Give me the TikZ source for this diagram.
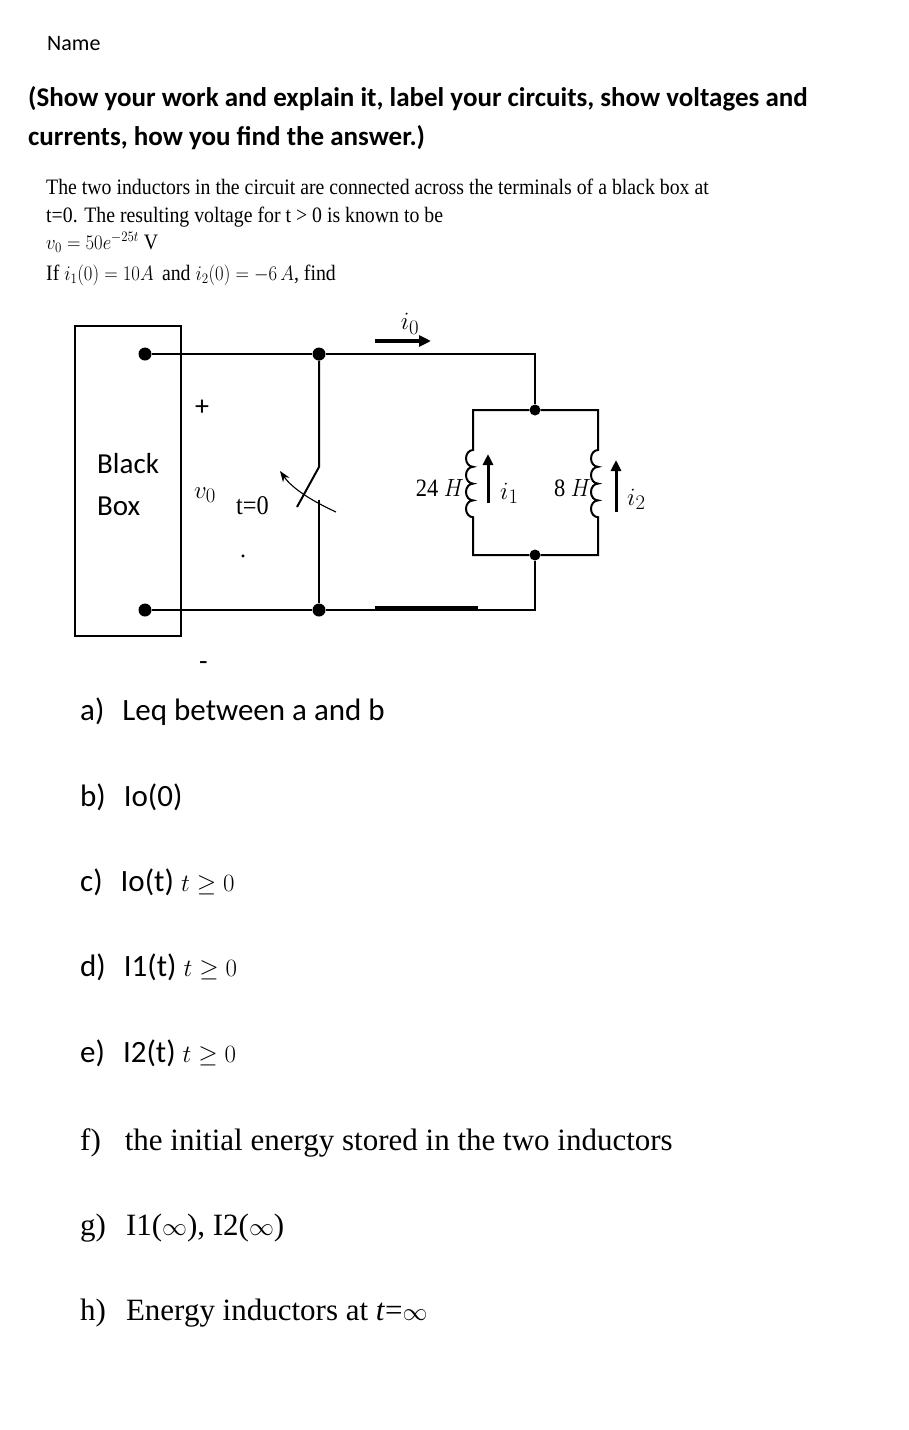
\documentclass[tikz,border=0pt]{standalone}
\usepackage{fontspec}
\usepackage{amsmath}
\setmainfont{Liberation Serif}
\newfontfamily\calf{Carlito}
\usetikzlibrary{arrows.meta}
\newcommand{\cond}[1]{\scalebox{0.9}[1]{#1}}
\begin{document}
\begin{tikzpicture}[x=1pt,y=-1pt,
  wire/.style={line width=2pt},
  dot/.style={circle,fill=black,inner sep=0pt,minimum size=13pt},
  sdot/.style={circle,fill=black,inner sep=0pt,minimum size=11pt},
  txt/.style={anchor=base west,inner sep=0pt},
  body/.style={txt,font=\fontsize{22}{24}\selectfont},
  q/.style={txt,font=\calf\fontsize{31}{34}\selectfont},
  qs/.style={txt,font=\fontsize{31}{34}\selectfont},
  cur/.style={line width=3pt,-{Triangle[length=11pt,width=10pt]}}]
\fill[white] (0,0) rectangle (908,1430);
\node[txt,font=\calf\fontsize{22}{24}\selectfont] (name) at (47,50) {Name};
\node[txt,font=\calf\bfseries\fontsize{27}{30}\selectfont] (h1) at (28,106) {(Show your work and explain it, label your circuits, show voltages and};
\node[txt,font=\calf\bfseries\fontsize{27}{30}\selectfont] (h2) at (28,145) {currents, how you find the answer.)};
\node[body] (b1) at (46,194) {\cond{The two inductors in the circuit are connected across the terminals of a black box at}};
\node[body] (b2) at (46,222) {\cond{t=0. The resulting voltage for t > 0 is known to be}};
\node[body] (b3) at (46,249) {\cond{$v_0=50e^{-25t}$ V}};
\node[body] (b4) at (46,280) {\cond{If $i_1(0)=10A$\, and $i_2(0)=-6\,A$, find}};
% box
\draw[line width=1.6pt] (75,326) rectangle (181,636);
\node[txt,font=\calf\fontsize{29}{32}\selectfont] (bl) at (97,473) {Black};
\node[txt,font=\calf\fontsize{29}{32}\selectfont] (bx) at (97,515) {Box};
\node[dot] (ta) at (145,354) {};
\node[dot] (tb) at (145,610) {};
\node[dot] (sa) at (319,354) {};
\node[dot] (sb) at (319,610) {};
\coordinate (tr) at (535,354);
\node[sdot] (lt) at (535,410) {};
\node[sdot] (lb) at (535,555) {};
\coordinate (br) at (535,610);
\draw[wire] (ta) -- (sa) -- (tr) -- (lt);
\draw[wire] (tb) -- (sb) -- (br) -- (lb);
\draw[line width=4pt] (375,608) -- (478,608);
% switch
\coordinate (s1) at (319,467);
\coordinate (s2) at (297,507);
\coordinate (s3) at (319,500);
\draw[wire] (sa) -- (s1) -- (s2);
\draw[wire] (s3) -- (sb);
\draw[line width=1.1pt,-{Stealth[length=11pt,width=8pt]}] (336,512) .. controls (310,500) and (292,488) .. (280,471);
% inductors
\coordinate (al) at (473,410);
\coordinate (ar) at (598,410);
\coordinate (cl) at (473,555);
\coordinate (cr) at (598,555);
\draw[wire] (lt) -- (al) -- (473,450)
  arc[start angle=270,end angle=90,x radius=7,y radius=8.4]
  arc[start angle=270,end angle=90,x radius=7,y radius=8.4]
  arc[start angle=270,end angle=90,x radius=7,y radius=8.4]
  arc[start angle=270,end angle=90,x radius=7,y radius=8.4] -- (cl) -- (lb);
\draw[wire] (lt) -- (ar) -- (598,450)
  arc[start angle=270,end angle=90,x radius=7,y radius=8.4]
  arc[start angle=270,end angle=90,x radius=7,y radius=8.4]
  arc[start angle=270,end angle=90,x radius=7,y radius=8.4]
  arc[start angle=270,end angle=90,x radius=7,y radius=8.4] -- (cr) -- (lb);
\coordinate (i1a) at (488,503);
\coordinate (i1b) at (488,454);
\draw[cur] (i1a) -- (i1b);
\coordinate (i2a) at (616,512);
\coordinate (i2b) at (616,460);
\draw[cur] (i2a) -- (i2b);
\coordinate (i0a) at (375,341);
\coordinate (i0b) at (431,341);
\draw[line width=3.5pt,-{Triangle[length=12pt,width=11pt]}] (i0a) -- (i0b);
\node[font=\fontsize{30}{32}\selectfont] (i0) at (410,324) {$i_0$};
\node[anchor=base east,inner sep=0pt,font=\fontsize{25}{28}\selectfont] (l24) at (464,496) {\cond{24 $H$}};
\node[anchor=base east,inner sep=0pt,font=\fontsize{25}{28}\selectfont] (l8) at (591,496) {\cond{8 $H$}};
\node[txt,font=\fontsize{30}{32}\selectfont] (li1) at (500,499) {$i_1$};
\node[txt,font=\fontsize{30}{32}\selectfont] (li2) at (627,505) {$i_2$};
\node[txt,font=\calf\fontsize{28}{30}\selectfont] (plus) at (195,415) {+};
\node[txt,font=\calf\fontsize{28}{30}\selectfont] (minus) at (199,670) {-};
\node[txt,font=\fontsize{32}{34}\selectfont] (v0) at (194,498) {$v_0$};
\node[txt,font=\fontsize{27}{30}\selectfont] (t0) at (236,514) {\cond{t=0}};
\node[txt,font=\fontsize{24}{26}\selectfont] (pd) at (240,557) {.};
% questions
\node[q] (qa) at (80,720) {a)\hspace{18pt}Leq between a and b};
\node[q] (qb) at (80,806) {b)\hspace{18pt}Io(0)};
\node[q] (qc) at (80,891) {c)\hspace{18pt}Io(t) $t\geq 0$};
\node[q] (qd) at (80,976) {d)\hspace{18pt}I1(t) $t\geq 0$};
\node[q] (qe) at (80,1062) {e)\hspace{18pt}I2(t) $t\geq 0$};
\node[qs] (qf) at (80,1150) {f)\hspace{24pt}the initial energy stored in the two inductors};
\node[qs] (qg) at (80,1235) {g)\hspace{20pt}I1($\infty$), I2($\infty$)};
\node[qs] (qh) at (80,1320) {h)\hspace{20pt}Energy inductors at \textit{t}=$\infty$};
\end{tikzpicture}
\end{document}
